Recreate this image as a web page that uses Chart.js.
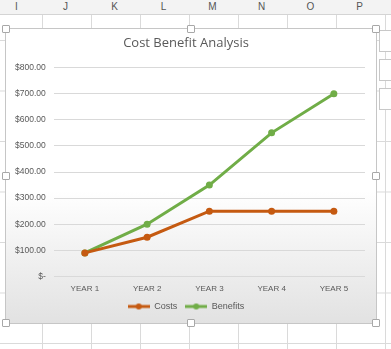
<!DOCTYPE html>
<html>
<head>
<meta charset="utf-8">
<script src="https://cdn.jsdelivr.net/npm/chart.js@4.4.1/dist/chart.umd.min.js"></script>
<style>
  body { margin: 0; width: 391px; height: 349px; overflow: hidden; background: #fff; font-family: "Liberation Sans", Arial, sans-serif; position: relative; }
  #hdr { position: absolute; left: 0; top: 0; width: 391px; height: 14px; background: #f3f3f3; border-bottom: 1px solid #d4d4d4; }
  #hdr span { position: absolute; top: 1px; width: 49px; text-align: center; font-size: 10px; color: #555; }
  #grid { position: absolute; left: 0; top: 15px; width: 391px; height: 334px;
    background-image:
      linear-gradient(to right, #dadada 1px, transparent 1px),
      linear-gradient(to bottom, #dadada 1px, transparent 1px);
    background-size: 49px 50.5px;
    background-position: -7px 25px; }
  #box { position: absolute; left: 5px; top: 28px; width: 370px; height: 294px; border: 1px solid #c6c6c6;
    background: linear-gradient(to bottom, #ffffff 0%, #ffffff 55%, #e2e2e2 100%); }
  #myChart { display: block; }
  .h { position: absolute; width: 6px; height: 6px; border: 1px solid #a8a8a8; background: #fff; border-radius: 1px; }
  .btn { position: absolute; left: 379px; width: 14px; height: 20px; border: 1px solid #c8c8c8; background: #fff; }
</style>
</head>
<body>
<div id="hdr"></div>
<div id="grid"></div>
<div id="box"><canvas id="myChart" width="370" height="294"></canvas></div>
<div class="btn" style="top:30px"></div>
<div class="btn" style="top:59px"></div>
<div class="btn" style="top:88px"></div>
<script>
const columns = ['I', 'J', 'K', 'L', 'M', 'N', 'O', 'P'];
const years = ['YEAR 1', 'YEAR 2', 'YEAR 3', 'YEAR 4', 'YEAR 5'];
const costs = [90, 150, 250, 250, 250];
const benefits = [90, 200, 350, 550, 700];
const yTickLabels = ['$-', '$100.00', '$200.00', '$300.00', '$400.00', '$500.00', '$600.00', '$700.00', '$800.00'];

// spreadsheet column letters
const hdr = document.getElementById('hdr');
columns.forEach((c, i) => {
    const s = document.createElement('span');
    s.textContent = c;
    s.style.left = (-8 + i * 49) + 'px';
    hdr.appendChild(s);
});

// chart selection handles
[[2, 25], [187, 25], [372, 25], [2, 172], [372, 172], [2, 319], [187, 319], [372, 319]].forEach(p => {
    const h = document.createElement('div');
    h.className = 'h';
    h.style.left = p[0] + 'px';
    h.style.top = p[1] + 'px';
    document.body.appendChild(h);
});

const costColor = '#c55a11';
const benefitColor = '#70ad47';

function legendIcon(color) {
    const c = document.createElement('canvas');
    c.width = 22;
    c.height = 8;
    const g = c.getContext('2d');
    g.strokeStyle = color;
    g.lineWidth = 3;
    g.beginPath();
    g.moveTo(0, 4);
    g.lineTo(22, 4);
    g.stroke();
    g.fillStyle = color;
    g.beginPath();
    g.arc(11, 4, 3, 0, Math.PI * 2);
    g.fill();
    return c;
}
const icons = [legendIcon(costColor), legendIcon(benefitColor)];

const ctx = document.getElementById('myChart');

new Chart(ctx, {
    type: 'line',
    data: {
        labels: years,
        datasets: [{
            label: 'Costs',
            data: costs,
            borderColor: costColor,
            backgroundColor: costColor,
            borderWidth: 3,
            pointRadius: 3.5,
            pointBorderWidth: 0,
            tension: 0
        }, {
            label: 'Benefits',
            data: benefits,
            borderColor: benefitColor,
            backgroundColor: benefitColor,
            borderWidth: 3,
            pointRadius: 3.5,
            pointBorderWidth: 0,
            tension: 0
        }]
    },
    options: {
        responsive: false,
        animation: false,
        layout: { padding: { left: 1, right: 11, top: 6, bottom: 2 } },
        plugins: {
            title: {
                display: true,
                text: 'Cost Benefit Analysis',
                color: '#595959',
                font: { family: '"Open Sans", "Liberation Sans", sans-serif', size: 13, weight: 'normal' },
                padding: { top: 0, bottom: 17 }
            },
            legend: {
                position: 'bottom',
                labels: {
                    color: '#595959',
                    font: { family: '"Liberation Sans", sans-serif', size: 9 },
                    usePointStyle: true,
                    pointStyleWidth: 22,
                    boxHeight: 8,
                    padding: 8,
                    generateLabels(chart) {
                        return chart.data.datasets.map((ds, i) => ({
                            text: ds.label,
                            pointStyle: icons[i],
                            fillStyle: ds.borderColor,
                            strokeStyle: ds.borderColor,
                            fontColor: '#595959',
                            lineWidth: 0,
                            datasetIndex: i
                        }));
                    }
                }
            },
            tooltip: { enabled: false }
        },
        scales: {
            x: {
                offset: true,
                grid: { display: false },
                border: { display: false },
                ticks: { color: '#595959', font: { family: '"Liberation Sans", sans-serif', size: 8 }, padding: 0 }
            },
            y: {
                min: 0,
                max: 800,
                grid: { color: '#d9d9d9', drawTicks: false },
                border: { display: false },
                ticks: {
                    stepSize: 100,
                    color: '#595959',
                    padding: 8,
                    font: { family: '"Liberation Sans", sans-serif', size: 8.5 },
                    callback: (v) => yTickLabels[v / 100]
                }
            }
        }
    }
});
</script>
</body>
</html>
